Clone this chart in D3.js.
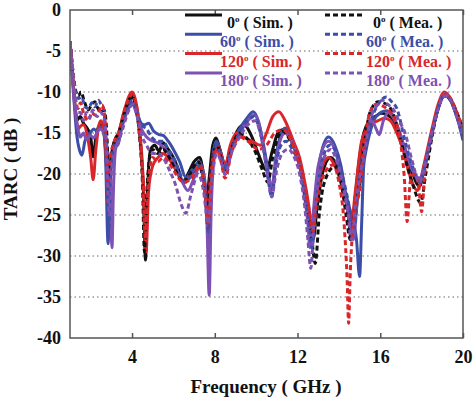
<!DOCTYPE html>
<html>
<head>
<meta charset="utf-8">
<script src="https://cdn.jsdelivr.net/npm/d3@7"></script>
<style>
  body { margin: 0; background: #fff; }
  text { font-family: "Liberation Serif", "Times New Roman", serif; font-weight: bold; }
</style>
</head>
<body>
<div id="chart"></div>
<script>
// TARC vs frequency, [GHz, dB]
const sim0 = [[1.0,-3.8],[1.1,-7],[1.22,-11],[1.35,-13.4],[1.5,-13],[1.65,-13.8],[1.85,-14.5],[2.0,-15.5],[2.12,-17.9],[2.25,-15.5],[2.45,-14],[2.6,-14.5],[2.72,-17],[2.85,-23],[2.97,-19],[3.15,-16],[3.3,-15.5],[3.6,-13],[3.85,-11.2],[4.02,-10.5],[4.2,-12],[4.4,-16],[4.55,-22],[4.65,-30.5],[4.75,-22],[4.9,-17],[5.1,-16.5],[5.3,-17.2],[5.5,-16.2],[5.75,-17],[6.0,-18],[6.25,-19.5],[6.45,-21],[6.7,-20],[7.0,-18.5],[7.27,-18],[7.45,-20],[7.6,-23],[7.75,-20],[7.9,-16.5],[8.06,-15.6],[8.25,-17],[8.5,-19],[8.7,-17.5],[8.95,-15.5],[9.4,-14],[9.8,-15.5],[10.1,-17.5],[10.5,-19.5],[10.8,-17],[11.05,-15],[11.3,-14.6],[11.6,-15.5],[12.0,-18],[12.3,-21],[12.55,-25],[12.75,-28],[12.95,-24],[13.2,-20],[13.6,-18],[13.9,-19],[14.2,-21.5],[14.45,-25],[14.6,-28],[14.75,-24],[14.95,-19],[15.2,-15],[15.5,-13.5],[15.75,-13],[16.05,-12.6],[16.35,-12.8],[16.65,-13.5],[16.95,-15.5],[17.2,-17],[17.5,-19.5],[17.9,-21.5],[18.15,-19],[18.5,-15],[18.8,-12],[19.1,-10.3],[19.4,-11],[19.7,-12.8],[20,-14.8]];
const mea0 = [[1.0,-3.8],[1.1,-6.5],[1.25,-9.5],[1.4,-10.5],[1.53,-10],[1.7,-11.2],[1.88,-12.2],[2.05,-11.5],[2.2,-11.2],[2.35,-12],[2.5,-12.4],[2.65,-12.2],[2.78,-15],[2.88,-22],[3.0,-18],[3.15,-16],[3.35,-15],[3.6,-12.8],[3.85,-11],[4.0,-10.5],[4.15,-11.5],[4.35,-15],[4.5,-21],[4.6,-29.5],[4.72,-22],[4.88,-17.5],[5.0,-17],[5.25,-17.5],[5.5,-17],[5.8,-18],[6.1,-19.5],[6.5,-21],[6.8,-20],[7.2,-18.5],[7.45,-21],[7.65,-24],[7.85,-19],[8.1,-16.5],[8.3,-18],[8.5,-20],[8.75,-17.5],[9.2,-15],[9.5,-15.5],[9.9,-17],[10.3,-19.5],[10.56,-21],[10.8,-18],[11.05,-15.5],[11.3,-14.8],[11.65,-16],[12.1,-19],[12.4,-23],[12.65,-27],[12.86,-30.9],[13.05,-25],[13.3,-21],[13.8,-19.1],[14.1,-21],[14.35,-25],[14.55,-28],[14.75,-25],[15.0,-21],[15.25,-16],[15.5,-12.5],[15.9,-11.2],[16.3,-11.5],[16.6,-12.5],[16.9,-15],[17.3,-19],[17.6,-21.5],[17.95,-23.5],[18.2,-20],[18.5,-15.5],[18.8,-12],[19.1,-10.5],[19.4,-11],[19.7,-12.5],[20,-14.5]];
const sim60 = [[1.0,-3.8],[1.1,-7.5],[1.22,-12],[1.34,-15.5],[1.45,-17],[1.58,-17.7],[1.72,-16],[1.85,-15.2],[1.97,-15],[2.15,-14.5],[2.3,-14.8],[2.45,-14.2],[2.6,-14.5],[2.72,-18],[2.84,-28.5],[2.95,-20],[3.1,-16.5],[3.2,-16],[3.3,-16.5],[3.5,-14],[3.8,-12],[4.0,-11.3],[4.15,-11.8],[4.35,-13.5],[4.6,-14],[4.8,-13.8],[5.05,-14.8],[5.3,-15.2],[5.5,-15.3],[5.75,-16],[6.0,-17],[6.3,-18.5],[6.6,-20.4],[6.9,-19.5],[7.25,-18.5],[7.5,-20.5],[7.62,-24],[7.7,-28.5],[7.8,-22],[7.95,-17],[8.08,-16],[8.3,-17.5],[8.5,-19],[8.8,-16.5],[9.2,-14.5],[9.55,-13.2],[9.86,-12.4],[10.1,-13.5],[10.4,-17],[10.6,-20],[10.75,-22],[10.95,-18],[11.15,-15.5],[11.4,-14.4],[11.7,-15.5],[12.1,-18.5],[12.35,-21.5],[12.55,-25],[12.7,-28],[12.85,-24],[13.1,-18],[13.5,-15.5],[13.8,-16.5],[14.1,-19],[14.3,-22],[14.6,-25],[14.85,-28],[15.0,-32.5],[15.1,-26],[15.2,-19],[15.3,-17.3],[15.55,-14.5],[15.8,-13],[16.3,-12.3],[16.6,-12.8],[16.8,-14],[17.2,-17],[17.55,-19.5],[17.9,-20.7],[18.2,-18.5],[18.5,-15],[18.8,-12],[19.1,-10.3],[19.4,-11],[19.7,-13],[20,-15.9]];
const mea60 = [[1.0,-3.8],[1.1,-6.5],[1.25,-9.8],[1.4,-10.8],[1.57,-10.6],[1.72,-11.8],[1.9,-12],[2.05,-11.3],[2.2,-11.8],[2.37,-11],[2.5,-11.5],[2.62,-12],[2.75,-17],[2.86,-27],[2.97,-20],[3.12,-16.5],[3.3,-16],[3.5,-14],[3.8,-12],[4.0,-11],[4.2,-12],[4.45,-14],[4.7,-14.5],[4.95,-15.5],[5.2,-16],[5.5,-16],[5.75,-17],[6.0,-18],[6.6,-21],[6.9,-20],[7.25,-19],[7.5,-21.5],[7.68,-27],[7.85,-20],[8.1,-16.5],[8.3,-18],[8.5,-19.5],[8.8,-17],[9.2,-15],[9.6,-13.5],[9.9,-13],[10.15,-14.5],[10.4,-17.5],[10.6,-21],[10.75,-22.8],[10.95,-19],[11.2,-16.5],[11.45,-16],[11.75,-17],[12.1,-19],[12.4,-23],[12.6,-27],[12.7,-29],[12.85,-25],[13.1,-19.5],[13.55,-16.5],[13.9,-17.5],[14.2,-20.5],[14.5,-24],[14.7,-27],[14.9,-23],[15.2,-18],[15.5,-14],[15.9,-11.5],[16.3,-10.6],[16.55,-11.2],[16.8,-12],[17.2,-16],[17.55,-19],[17.9,-21],[18.2,-18.5],[18.5,-15],[18.8,-12],[19.1,-10.5],[19.4,-11],[19.7,-13],[20,-15.5]];
const sim120 = [[1.0,-3.8],[1.1,-7],[1.25,-12],[1.4,-14.5],[1.5,-14.2],[1.65,-14],[1.85,-15.5],[2.0,-18],[2.12,-20.7],[2.25,-17],[2.4,-14],[2.5,-13.5],[2.65,-15],[2.75,-18],[2.85,-24],[2.97,-19],[3.15,-16],[3.35,-15],[3.6,-12.5],[3.85,-10.5],[4.0,-10],[4.15,-10.8],[4.35,-14],[4.55,-21],[4.68,-29.5],[4.8,-22],[5.0,-19],[5.25,-18],[5.5,-17.5],[5.75,-18],[6.0,-19],[6.5,-21],[6.9,-20],[7.3,-19],[7.5,-21],[7.65,-25],[7.8,-20],[8.1,-16.5],[8.3,-17.5],[8.5,-19],[8.75,-16.5],[9.07,-15],[9.4,-15.5],[9.8,-16],[10.2,-16.5],[10.5,-15],[10.8,-13],[11.1,-12.4],[11.4,-13.5],[11.8,-16],[12.1,-18],[12.35,-21],[12.55,-24],[12.7,-27],[12.85,-24],[13.1,-20],[13.5,-18],[13.8,-19],[14.1,-21],[14.4,-24],[14.6,-26],[14.8,-22],[15.1,-16],[15.5,-14],[15.9,-13.5],[16.2,-13.2],[16.5,-13.5],[16.8,-15],[17.1,-17],[17.35,-19.5],[17.8,-22],[18.1,-19],[18.5,-14.5],[18.8,-11.5],[19.1,-10],[19.4,-10.8],[19.7,-12.5],[20,-14.8]];
const mea120 = [[1.0,-3.8],[1.1,-6.5],[1.25,-10.5],[1.4,-12],[1.5,-11.3],[1.65,-12.5],[1.88,-13.5],[2.05,-12.5],[2.2,-12.8],[2.37,-12.5],[2.55,-11.6],[2.68,-13],[2.77,-17],[2.84,-21.6],[2.95,-18],[3.15,-16],[3.35,-15],[3.6,-12.5],[3.85,-10.8],[4.0,-10.3],[4.15,-11],[4.35,-14.5],[4.5,-20],[4.65,-28],[4.78,-21],[5.0,-18],[5.25,-18.5],[5.5,-18],[5.75,-18.5],[6.0,-19.5],[6.5,-21],[6.9,-20.5],[7.3,-19],[7.5,-21.5],[7.68,-26],[7.85,-20],[8.1,-17],[8.3,-18.5],[8.5,-20.5],[8.8,-17.5],[9.2,-15.5],[9.6,-16],[10.1,-17],[10.5,-16.5],[10.9,-15],[11.3,-14.6],[11.7,-16],[12.1,-19],[12.4,-22],[12.6,-25],[12.75,-27],[12.9,-24],[13.2,-20.5],[13.7,-18.9],[14.0,-21],[14.25,-26],[14.4,-33],[14.47,-38.2],[14.55,-32],[14.75,-25],[15.0,-22],[15.25,-16],[15.5,-12.5],[15.8,-11.5],[16.3,-12],[16.8,-14],[17.0,-16.5],[17.15,-20],[17.3,-25.8],[17.45,-21],[17.65,-20],[17.85,-21.5],[18.0,-24.6],[18.15,-20],[18.5,-15],[18.8,-12],[19.1,-10.3],[19.4,-10.8],[19.7,-12.5],[20,-14.5]];
const sim180 = [[1.0,-3.8],[1.1,-7.5],[1.22,-11.5],[1.35,-14],[1.5,-15.5],[1.65,-15],[1.8,-15.8],[1.97,-15.3],[2.15,-15.6],[2.3,-15],[2.45,-14.5],[2.6,-14.8],[2.75,-16],[2.88,-19],[2.97,-25],[3.03,-29],[3.1,-22],[3.2,-17],[3.35,-16],[3.55,-14],[3.8,-12.2],[4.02,-11.5],[4.2,-12.5],[4.45,-14.5],[4.7,-15.5],[5.0,-16],[5.25,-16.2],[5.5,-16.7],[5.75,-17.5],[6.0,-18.5],[6.35,-20.5],[6.7,-22],[7.0,-20.5],[7.3,-19],[7.5,-21],[7.62,-26],[7.73,-34.8],[7.82,-25],[7.95,-18.5],[8.1,-17],[8.3,-18],[8.5,-19.5],[8.8,-17],[9.2,-15],[9.6,-13.5],[9.9,-12.8],[10.15,-14],[10.4,-17.5],[10.6,-20.5],[10.75,-21.5],[10.95,-18.5],[11.15,-16],[11.4,-15],[11.7,-16],[12.1,-19],[12.35,-23],[12.5,-26],[12.6,-29],[12.75,-25],[13.0,-19],[13.5,-16],[13.8,-17],[14.1,-20],[14.4,-24],[14.7,-28],[14.9,-23],[15.2,-17],[15.4,-14.5],[15.6,-13.5],[15.8,-14.5],[15.95,-15.2],[16.15,-13.5],[16.4,-12.5],[16.6,-13],[16.8,-14],[17.2,-17],[17.55,-19.5],[17.9,-20.5],[18.2,-18.5],[18.5,-15],[18.8,-12],[19.1,-10.2],[19.4,-11],[19.7,-13],[20,-15.5]];
const mea180 = [[1.0,-3.8],[1.1,-6.5],[1.25,-10.5],[1.4,-12.5],[1.5,-12.5],[1.65,-13.5],[1.8,-12.5],[1.95,-13.2],[2.1,-12.2],[2.3,-13],[2.45,-12.5],[2.6,-12.8],[2.75,-16],[2.9,-25],[3.0,-20],[3.15,-17],[3.35,-16],[3.55,-14.5],[3.8,-12.5],[4.05,-11.5],[4.25,-13],[4.5,-15.5],[4.7,-16.5],[5.0,-17.5],[5.25,-17.5],[5.5,-18],[5.8,-19.5],[6.1,-21.3],[6.35,-23.5],[6.6,-24.8],[6.85,-22.5],[7.2,-20],[7.45,-22],[7.68,-26],[7.85,-21],[8.1,-17.5],[8.3,-18.5],[8.5,-20],[8.8,-17.5],[9.2,-15.5],[9.6,-14],[9.95,-13.5],[10.2,-15],[10.45,-18.5],[10.6,-21],[10.75,-22.8],[10.95,-20],[11.25,-17.5],[11.55,-17],[11.85,-18],[12.1,-20],[12.35,-24],[12.5,-28],[12.64,-31.5],[12.8,-26],[13.05,-20],[13.6,-17],[13.9,-18.5],[14.2,-21.5],[14.45,-25],[14.6,-28],[14.8,-24],[15.0,-20.5],[15.2,-18],[15.5,-13.5],[15.8,-11.8],[16.1,-11],[16.35,-11.5],[16.6,-12],[16.9,-13.5],[17.2,-15],[17.55,-18.5],[17.9,-21],[18.2,-18.5],[18.5,-15],[18.8,-12],[19.1,-10.5],[19.4,-11],[19.7,-13],[20,-15]];

const angles = ["0", "60", "120", "180"];
const colors = ["#111111", "#3b4ea8", "#d8262b", "#7e52b2"];
const simData = [sim0, sim60, sim120, sim180];
const meaData = [mea0, mea60, mea120, mea180];
const xTicks = [4, 8, 12, 16, 20];
const yTicks = [0, -5, -10, -15, -20, -25, -30, -35, -40];

const W = 474, H = 399;
const x = d3.scaleLinear().domain([1, 20]).range([70, 463]);
const y = d3.scaleLinear().domain([0, -40]).range([10, 338]);

const svg = d3.select("#chart").append("svg").attr("width", W).attr("height", H);

svg.append("clipPath").attr("id", "clip").append("rect")
  .attr("x", 70).attr("y", 10).attr("width", 393).attr("height", 328);

// dotted grid
svg.append("g").selectAll("line")
  .data(yTicks.filter(d => d !== 0 && d !== -40))
  .enter().append("line")
  .attr("x1", x(1)).attr("x2", x(20))
  .attr("y1", d => y(d)).attr("y2", d => y(d))
  .attr("stroke", "#666").attr("stroke-width", 1)
  .attr("stroke-dasharray", "1.5,3");

const line = d3.line().x(d => x(d[0])).y(d => y(d[1])).curve(d3.curveMonotoneX);

const plot = svg.append("g").attr("clip-path", "url(#clip)");
// simulated (solid) then measured (dashed)
simData.forEach((s, i) => {
  plot.append("path").datum(s).attr("d", line)
    .attr("fill", "none").attr("stroke", colors[i]).attr("stroke-width", 3)
    .attr("stroke-linejoin", "round");
});
meaData.forEach((s, i) => {
  plot.append("path").datum(s).attr("d", line)
    .attr("fill", "none").attr("stroke", colors[i]).attr("stroke-width", 3)
    .attr("stroke-dasharray", "5,3");
});

// frame
svg.append("rect").attr("x", 70).attr("y", 10).attr("width", 393).attr("height", 328)
  .attr("fill", "none").attr("stroke", "#555").attr("stroke-width", 1.5);

const xAxis = svg.append("g").attr("transform", "translate(0,338)")
  .call(d3.axisBottom(x).tickValues(xTicks).tickSizeInner(-5).tickSizeOuter(0).tickPadding(12));
xAxis.select(".domain").remove();
xAxis.selectAll("line").attr("stroke", "#555").attr("stroke-width", 1.5);
xAxis.selectAll("text").attr("font-size", 18).attr("fill", "#111");

const xTop = svg.append("g").attr("transform", "translate(0,10)")
  .call(d3.axisTop(x).tickValues(xTicks).tickSizeInner(-5).tickSizeOuter(0).tickFormat(""));
xTop.select(".domain").remove();
xTop.selectAll("line").attr("stroke", "#555").attr("stroke-width", 1.5);

const yAxis = svg.append("g").attr("transform", "translate(70,0)")
  .call(d3.axisLeft(y).tickValues(yTicks).tickSize(0).tickPadding(9).tickFormat(d => String(d)));
yAxis.select(".domain").remove();
yAxis.selectAll("text").attr("font-size", 18).attr("fill", "#111");

svg.append("text").attr("x", 266).attr("y", 393).attr("text-anchor", "middle")
  .attr("font-size", 19).attr("fill", "#111").text("Frequency ( GHz )");
svg.append("text").attr("transform", "translate(17,169) rotate(-90)").attr("text-anchor", "middle")
  .attr("font-size", 19).attr("fill", "#111").text("TARC ( dB )");

// legend
const leg = svg.append("g");
function legendEntry(col, i, kind) {
  const ly = 15 + i * 19.3;
  const x0 = col === 0 ? 185 : 325, x1 = col === 0 ? 222 : 365;
  leg.append("line").attr("x1", x0).attr("x2", x1).attr("y1", ly).attr("y2", ly)
    .attr("stroke", colors[i]).attr("stroke-width", 3)
    .attr("stroke-dasharray", kind === "Mea." ? "5,3" : null);
  const tx = (col === 0 ? 220 : 366) + (angles[i] === "0" ? 7 : 0);
  const t = leg.append("text").attr("x", tx).attr("y", ly + 13)
    .attr("font-size", 16).attr("fill", colors[i]);
  t.append("tspan").text(angles[i]);
  t.append("tspan").attr("font-size", 9).attr("dy", -6).text("o");
  t.append("tspan").attr("dy", 6).text(" ( " + kind + " )");
}
angles.forEach((a, i) => { legendEntry(0, i, "Sim."); legendEntry(1, i, "Mea."); });
</script>
</body>
</html>
